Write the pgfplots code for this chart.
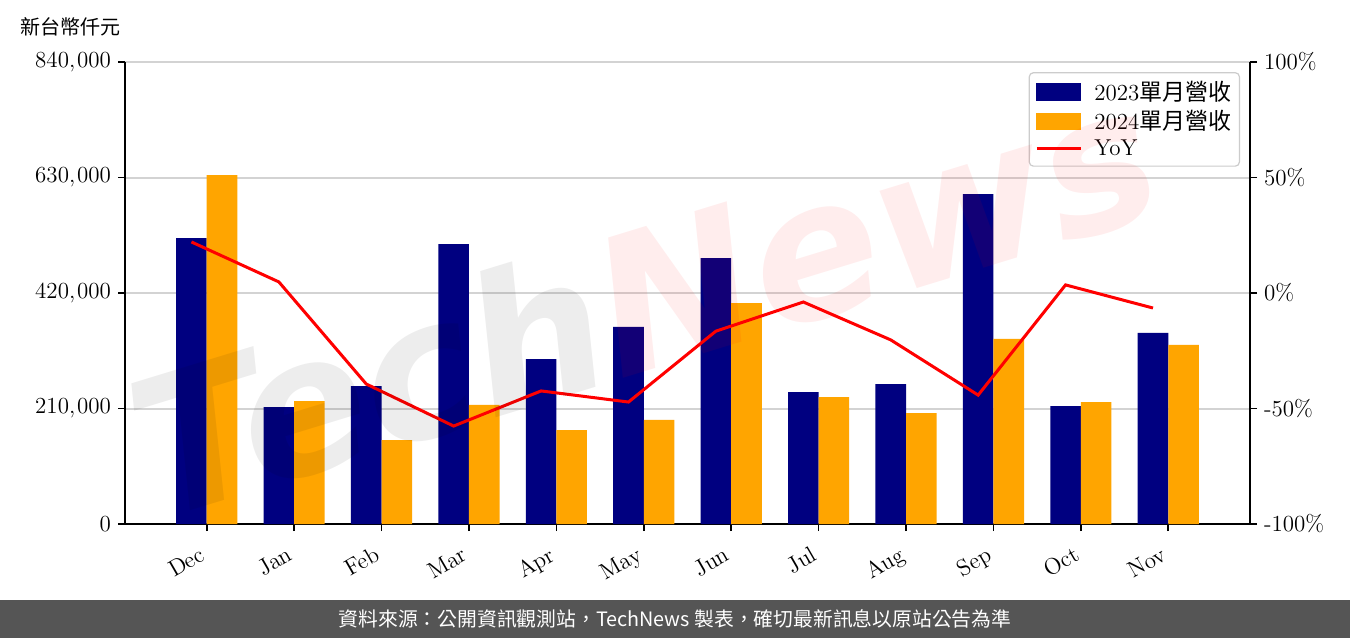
\documentclass[border=0pt]{standalone}
\usepackage{pgfplots}
\pgfplotsset{compat=1.18}
\usepackage{pgfplotstable}
\usepackage{fontspec}
\newfontfamily\cjk{Noto Sans CJK TC}
\newfontfamily\wm{DejaVu Sans}
\definecolor{navyc}{HTML}{000080}
\definecolor{orangec}{HTML}{FFA500}
\definecolor{gridc}{HTML}{D3D3D3}
\definecolor{legc}{HTML}{CCCCCC}
\definecolor{footc}{HTML}{555555}

\pgfplotstableread{
x y
0 520000
1 212700
2 250900
3 509000
4 300000
5 358200
6 483600
7 240000
8 254500
9 600000
10 214500
11 347300
}\tbla
\pgfplotstableread{
x y
0.35 634500
1.35 223600
2.35 152700
3.35 216400
4.35 170900
5.35 189100
6.35 401800
7.35 230900
8.35 201800
9.35 336400
10.35 221800
11.35 325500
}\tblb
\pgfplotstableread{
x y
0 22.1
1 4.8
2 -39.4
3 -57.6
4 -42.4
5 -47.2
6 -16.5
7 -3.9
8 -20.3
9 -44.2
10 3.5
11 -6.5
}\tblc

\begin{document}
\begin{tikzpicture}
\useasboundingbox (0,0) rectangle (675pt,319pt);
\fill[white] (0,0) rectangle (675pt,319pt);
\fill[footc] (0,0) rectangle (675pt,19pt);
\node[text=white, font=\cjk\fontsize{9.9}{11}\selectfont] at (337.5pt,9.6pt) {資料來源：公開資訊觀測站，TechNews 製表，確切最新訊息以原站公告為準};
\node[anchor=west, font=\cjk\fontsize{10}{12}\selectfont, inner sep=0pt] at (10pt,305.5pt) {新台幣仟元};

\begin{axis}[
  at={(62.5pt,57pt)}, anchor=south west,
  width=562.5pt, height=231pt, scale only axis,
  xmin=-0.76, xmax=12.11,
  ymin=0, ymax=840000,
  scaled y ticks=false,
  axis y line*=left,
  axis x line*=bottom,
  axis line style={line width=1pt},
  ytick={0,210000,420000,630000,840000},
  yticklabels={{0},{210,\kern.08em000},{420,\kern.08em000},{630,\kern.08em000},{840,\kern.08em000}},
  xtick={0.175,1.175,2.175,3.175,4.175,5.175,6.175,7.175,8.175,9.175,10.175,11.175},
  xticklabels={Dec,Jan,Feb,Mar,Apr,May,Jun,Jul,Aug,Sep,Oct,Nov},
  tick align=outside,
  major tick length=3.5pt,
  every tick/.style={black, line width=0.8pt},
  ymajorgrids, grid style={gridc, line width=1pt},
  tick label style={font=\fontsize{11.5}{13}\selectfont},
  xticklabel style={rotate=30, anchor=north east, inner sep=1pt, xshift=-6pt, yshift=-3pt},
  ybar, bar width=0.35, bar shift=0pt,
  clip=false,
]
\addplot[fill=navyc, draw=none] table[x=x,y=y] {\tbla};
\addplot[fill=orangec, draw=none] table[x=x,y=y] {\tblb};
\end{axis}

\begin{axis}[
  at={(62.5pt,57pt)}, anchor=south west,
  width=562.5pt, height=231pt, scale only axis,
  xmin=-0.76, xmax=12.11,
  ymin=-100, ymax=100,
  axis y line*=right,
  axis x line=none,
  axis line style={line width=1pt},
  ytick={-100,-50,0,50,100},
  yticklabels={-100\%,-50\%,0\%,50\%,100\%},
  tick align=outside,
  major tick length=3.5pt,
  every tick/.style={black, line width=0.8pt},
  tick label style={font=\fontsize{11.5}{13}\selectfont},
  legend style={at={(0.9911,0.978)}, anchor=north east, draw=legc, rounded corners=2pt,
    font=\fontsize{11.5}{14}\selectfont, row sep=1.5pt, inner xsep=3pt, inner ysep=3pt,
    line width=0.6pt, nodes={inner sep=1pt}},
  legend cell align=left,
]
\addlegendimage{area legend, legend image code/.code={\fill[navyc, sharp corners] (0pt,-4pt) rectangle (22pt,4pt); \path (27pt,0pt);}}
\addlegendentry{2023{\cjk 單月營收}}
\addlegendimage{area legend, legend image code/.code={\fill[orangec, sharp corners] (0pt,-4pt) rectangle (22pt,4pt); \path (27pt,0pt);}}
\addlegendentry{2024{\cjk 單月營收}}
\addplot[red, line width=1.5pt, mark=none, legend image code/.code={\draw[red, line width=1.5pt, sharp corners] (0pt,0pt) -- (22pt,0pt); \path (27pt,0pt);}] table[x=x,y=y] {\tblc};
\addlegendentry{YoY}
\end{axis}

\node[rotate=17, text opacity=0.07, font=\wm\bfseries\itshape\fontsize{95}{95}\selectfont] at (322pt,170pt) {\textcolor{black}{Tech}\textcolor{red}{News}};
\end{tikzpicture}
\end{document}
